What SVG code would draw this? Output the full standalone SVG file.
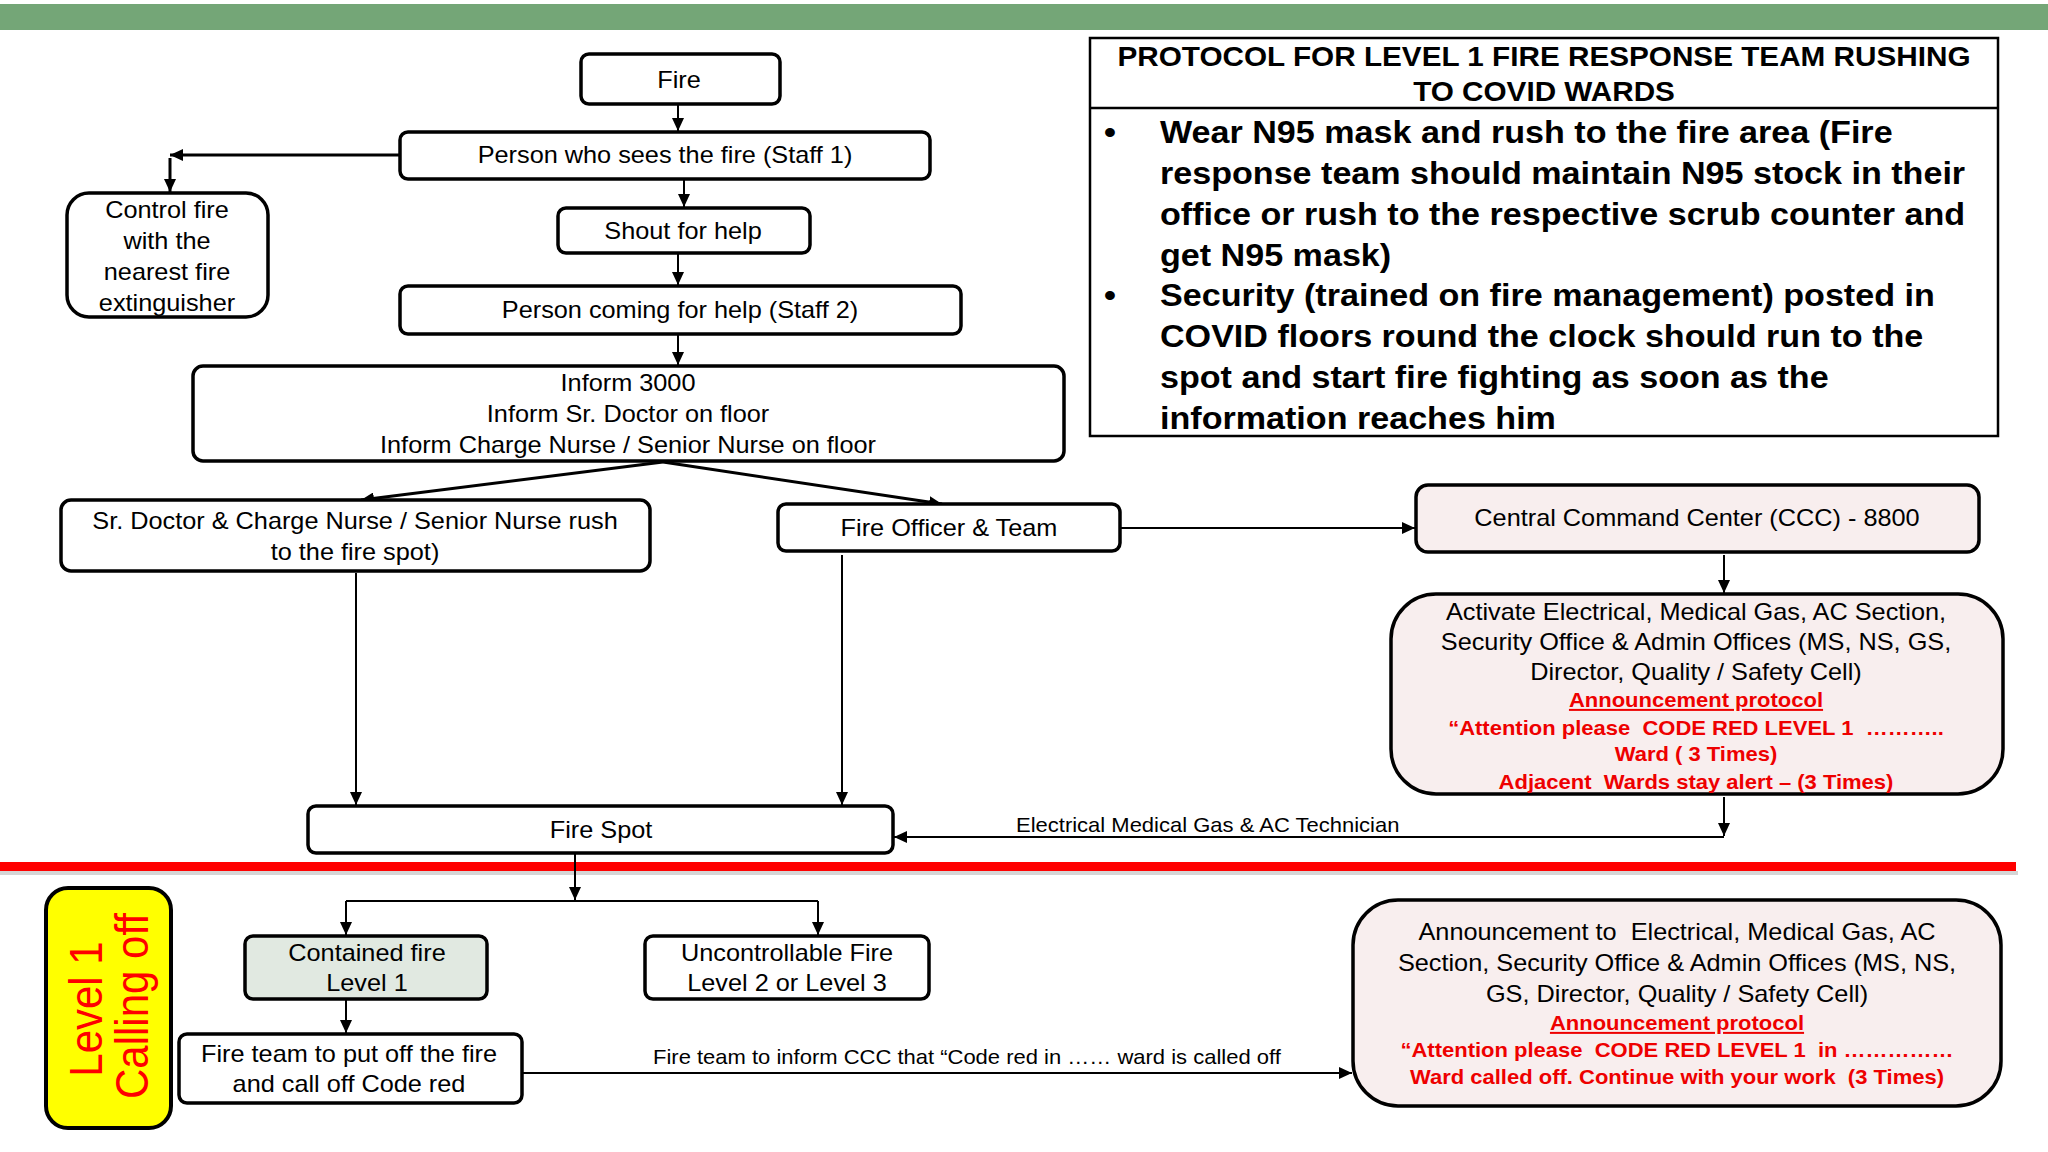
<svg xmlns="http://www.w3.org/2000/svg" width="2048" height="1152" viewBox="0 0 2048 1152">
<defs>
<style>
.box{fill:#fff;stroke:#000;stroke-width:3.5}
.pink{fill:#f8eeee}
.green{fill:#e1e9e1}
.t{font-family:"Liberation Sans",Arial,sans-serif;font-size:23px;fill:#000;text-anchor:middle}
.red{font-weight:bold;font-size:20px;fill:#ee0000}
.u{text-decoration:underline}
.lbl{font-size:20px;text-anchor:start}
.hd{font-weight:bold;font-size:27px}
.bl{font-weight:bold;font-size:31px;text-anchor:start}
.c{fill:none;stroke:#000;stroke-width:2}
.ck{fill:none;stroke:#000;stroke-width:3}
</style>
<marker id="ah" markerUnits="userSpaceOnUse" markerWidth="14" markerHeight="12" refX="13" refY="6" orient="auto">
<path d="M0,0 L13,6 L0,12 z" fill="#000"/>
</marker>
</defs>
<rect x="0" y="0" width="2048" height="1152" fill="#fff"/>
<rect x="0" y="4" width="2048" height="26" fill="#74a677"/>
<rect x="0" y="871" width="2018" height="4" fill="#888" opacity="0.35"/>
<rect x="0" y="862" width="2016" height="9" fill="#ff0000"/>

<g id="connectors">
<path class="c" d="M678,104 V131" marker-end="url(#ah)"/>
<path class="ck" d="M400,155 H170" marker-end="url(#ah)"/>
<path class="ck" d="M170,158 V192" marker-end="url(#ah)"/>
<path class="c" d="M684,179 V207" marker-end="url(#ah)"/>
<path class="c" d="M678,253 V285" marker-end="url(#ah)"/>
<path class="c" d="M678,334 V365" marker-end="url(#ah)"/>
<path class="ck" d="M663,462 L361,500" marker-end="url(#ah)"/>
<path class="ck" d="M663,462 L942,504" marker-end="url(#ah)"/>
<path class="c" d="M356,573 V805" marker-end="url(#ah)"/>
<path class="c" d="M842,555 V805" marker-end="url(#ah)"/>
<path class="c" d="M1120,528 H1415" marker-end="url(#ah)"/>
<path class="c" d="M1724,555 V593" marker-end="url(#ah)"/>
<path class="c" d="M1724,797 V836" marker-end="url(#ah)"/>
<path class="c" d="M1724,837 H894" marker-end="url(#ah)"/>
<path class="c" d="M575,853 V900" marker-end="url(#ah)"/>
<path class="c" d="M346,901 H818"/>
<path class="c" d="M346,901 V935" marker-end="url(#ah)"/>
<path class="c" d="M818,901 V935" marker-end="url(#ah)"/>
<path class="c" d="M346,999 V1033" marker-end="url(#ah)"/>
<path class="c" d="M523,1073 H1352" marker-end="url(#ah)"/>
<text class="t lbl" transform="translate(1016,0) scale(1.1,1)" x="0" y="832">Electrical Medical Gas &amp; AC Technician</text>
<text class="t lbl" transform="translate(653,0) scale(1.1,1)" x="0" y="1064">Fire team to inform CCC that “Code red in …… ward is called off</text>
</g>

<g id="fire">
<rect class="box" x="581" y="54" width="199" height="50" rx="8"/>
<text class="t" transform="translate(679,0) scale(1.1,1)" x="0" y="88">Fire</text>
</g>
<g id="staff1">
<rect class="box" x="400" y="132" width="530" height="47" rx="8"/>
<text class="t" transform="translate(665,0) scale(1.1,1)" x="0" y="163">Person who sees the fire (Staff 1)</text>
</g>
<g id="control">
<rect class="box" x="67" y="193" width="201" height="124" rx="22"/>
<text class="t" transform="translate(167,0) scale(1.1,1)"><tspan x="0" y="218">Control fire</tspan><tspan x="0" y="249">with the</tspan><tspan x="0" y="280">nearest fire</tspan><tspan x="0" y="311">extinguisher</tspan></text>
</g>
<g id="shout">
<rect class="box" x="558" y="208" width="252" height="45" rx="8"/>
<text class="t" transform="translate(683,0) scale(1.1,1)" x="0" y="239">Shout for help</text>
</g>
<g id="staff2">
<rect class="box" x="400" y="286" width="561" height="48" rx="8"/>
<text class="t" transform="translate(680,0) scale(1.1,1)" x="0" y="318">Person coming for help (Staff 2)</text>
</g>
<g id="inform">
<rect class="box" x="193" y="366" width="871" height="95" rx="10"/>
<text class="t" transform="translate(628,0) scale(1.1,1)"><tspan x="0" y="391">Inform 3000</tspan><tspan x="0" y="422">Inform Sr. Doctor on floor</tspan><tspan x="0" y="453">Inform Charge Nurse / Senior Nurse on floor</tspan></text>
</g>
<g id="srdoctor">
<rect class="box" x="61" y="500" width="589" height="71" rx="10"/>
<text class="t" transform="translate(355,0) scale(1.1,1)"><tspan x="0" y="529">Sr. Doctor &amp; Charge Nurse / Senior Nurse rush</tspan><tspan x="0" y="560">to the fire spot)</tspan></text>
</g>
<g id="fireofficer">
<rect class="box" x="778" y="504" width="342" height="47" rx="8"/>
<text class="t" transform="translate(949,0) scale(1.1,1)" x="0" y="536">Fire Officer &amp; Team</text>
</g>
<g id="ccc">
<rect class="box pink" x="1416" y="485" width="563" height="67" rx="12"/>
<text class="t" transform="translate(1697,0) scale(1.1,1)" x="0" y="526">Central Command Center (CCC) - 8800</text>
</g>
<g id="activate">
<rect class="box pink" x="1391" y="594" width="612" height="200" rx="45"/>
<text class="t" transform="translate(1696,0) scale(1.1,1)"><tspan x="0" y="620">Activate Electrical, Medical Gas, AC Section,</tspan><tspan x="0" y="650">Security Office &amp; Admin Offices (MS, NS, GS,</tspan><tspan x="0" y="680">Director, Quality / Safety Cell)</tspan></text>
<text class="t red" xml:space="preserve" transform="translate(1696,0) scale(1.1,1)"><tspan class="u" x="0" y="707">Announcement protocol</tspan><tspan x="0" y="735">“Attention please  CODE RED LEVEL 1  ………..</tspan><tspan x="0" y="761">Ward ( 3 Times)</tspan><tspan x="0" y="789">Adjacent  Wards stay alert – (3 Times)</tspan></text>
</g>
<g id="firespot">
<rect class="box" x="308" y="806" width="585" height="47" rx="8"/>
<text class="t" transform="translate(601,0) scale(1.1,1)" x="0" y="838">Fire Spot</text>
</g>
<g id="level1">
<rect x="46" y="888" width="125" height="240" rx="22" fill="#ffff00" stroke="#000" stroke-width="4"/>
<text class="t" style="font-size:42px;fill:#ff0000" transform="translate(102,1009) scale(1.1,1) rotate(-90)" x="0" y="0">Level 1</text>
<text class="t" style="font-size:42px;fill:#ff0000" transform="translate(148,1006) scale(1.1,1) rotate(-90)" x="0" y="0">Calling off</text>
</g>
<g id="contained">
<rect class="box green" x="245" y="936" width="242" height="63" rx="8"/>
<text class="t" transform="translate(367,0) scale(1.1,1)"><tspan x="0" y="961">Contained fire</tspan><tspan x="0" y="991">Level 1</tspan></text>
</g>
<g id="uncontrollable">
<rect class="box" x="645" y="936" width="284" height="63" rx="8"/>
<text class="t" transform="translate(787,0) scale(1.1,1)"><tspan x="0" y="961">Uncontrollable Fire</tspan><tspan x="0" y="991">Level 2 or Level 3</tspan></text>
</g>
<g id="fireteam">
<rect class="box" x="179" y="1034" width="343" height="69" rx="8"/>
<text class="t" transform="translate(349,0) scale(1.1,1)"><tspan x="0" y="1062">Fire team to put off the fire</tspan><tspan x="0" y="1092">and call off Code red</tspan></text>
</g>
<g id="announcement">
<rect class="box pink" x="1353" y="900" width="648" height="206" rx="45"/>
<text class="t" xml:space="preserve" transform="translate(1677,0) scale(1.1,1)"><tspan x="0" y="940">Announcement to  Electrical, Medical Gas, AC</tspan><tspan x="0" y="971">Section, Security Office &amp; Admin Offices (MS, NS,</tspan><tspan x="0" y="1002">GS, Director, Quality / Safety Cell)</tspan></text>
<text class="t red" xml:space="preserve" transform="translate(1677,0) scale(1.1,1)"><tspan class="u" x="0" y="1030">Announcement protocol</tspan><tspan x="0" y="1057">“Attention please  CODE RED LEVEL 1  in ……………</tspan><tspan x="0" y="1084">Ward called off. Continue with your work  (3 Times)</tspan></text>
</g>
<g id="protocol">
<rect x="1090" y="38" width="908" height="398" fill="#fff" stroke="#000" stroke-width="2.5"/>
<line x1="1090" y1="108" x2="1998" y2="108" stroke="#000" stroke-width="2.5"/>
<text class="t hd" transform="translate(1544,0) scale(1.1,1)"><tspan x="0" y="66">PROTOCOL FOR LEVEL 1 FIRE RESPONSE TEAM RUSHING</tspan><tspan x="0" y="101">TO COVID WARDS</tspan></text>
<text class="t bl" transform="translate(1104,0) scale(1.1,1)"><tspan x="0" y="143">•</tspan><tspan x="0" y="306">•</tspan></text>
<text class="t bl" transform="translate(1160,0) scale(1.1,1)"><tspan x="0" y="143">Wear N95 mask and rush to the fire area (Fire</tspan><tspan x="0" y="184">response team should maintain N95 stock in their</tspan><tspan x="0" y="225">office or rush to the respective scrub counter and</tspan><tspan x="0" y="266">get N95 mask)</tspan><tspan x="0" y="306">Security (trained on fire management) posted in</tspan><tspan x="0" y="347">COVID floors round the clock should run to the</tspan><tspan x="0" y="388">spot and start fire fighting as soon as the</tspan><tspan x="0" y="429">information reaches him</tspan></text>
</g>
</svg>
